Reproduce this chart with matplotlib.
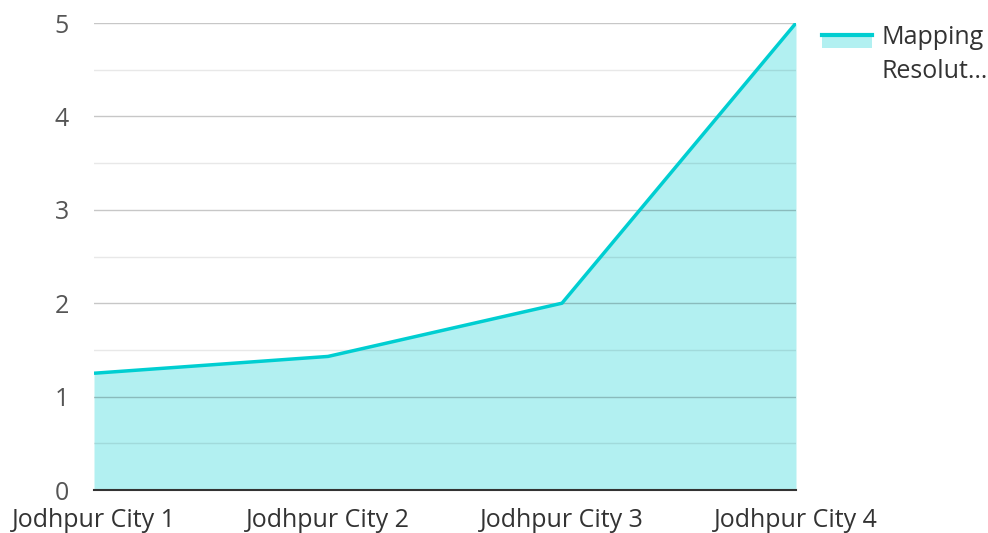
import matplotlib
matplotlib.use("Agg")
import matplotlib.pyplot as plt
from matplotlib.patches import Rectangle
from matplotlib.lines import Line2D
from matplotlib.ticker import MultipleLocator

categories = ["Jodhpur City 1", "Jodhpur City 2", "Jodhpur City 3", "Jodhpur City 4"]
values = [1.25, 1.43, 2.0, 5.0]
series_lines = ["Mapping", "Resolut…"]

plt.rcParams['font.family'] = ['Open Sans', 'DejaVu Sans']
line_color = "#00CED1"
fill_color = "#B2F0F1"
text_color = "#333333"

fig = plt.figure(figsize=(9.88, 5.33), dpi=100)
ax = fig.add_axes([94/988, 43/533, (796-94)/988, (490-23)/533])

x = list(range(len(categories)))
ax.fill_between(x, values, 0, color=fill_color, lw=0, zorder=1)
ax.plot(x, values, color=line_color, lw=2.5, zorder=3, solid_capstyle='butt')

ax.set_xlim(0, len(categories) - 1)
ax.set_ylim(0, 5)
ax.yaxis.set_major_locator(MultipleLocator(1))
ax.yaxis.set_minor_locator(MultipleLocator(0.5))
ax.set_xticks(x)
ax.set_xticklabels(categories)

ax.grid(axis='y', which='major', color='black', alpha=0.22, lw=1, zorder=2)
ax.grid(axis='y', which='minor', color='black', alpha=0.09, lw=1, zorder=2)
ax.grid(axis='x', visible=False)
for s in ['top', 'right', 'left']:
    ax.spines[s].set_visible(False)
ax.spines['bottom'].set_color('#333333')
ax.spines['bottom'].set_linewidth(1.5)
ax.spines['bottom'].set_zorder(4)
ax.tick_params(axis='y', which='both', length=0, pad=18, labelsize=18, labelcolor='#555555')
ax.tick_params(axis='x', length=0, pad=13, labelsize=18, labelcolor=text_color)

# legend drawn in figure coordinates
fig.patches.append(Rectangle((822/988, 1 - 48/533), 50/988, 15/533, transform=fig.transFigure,
                             facecolor=fill_color, edgecolor='none'))
fig.lines.append(Line2D([822/988, 872/988], [1 - 35/533, 1 - 35/533], transform=fig.transFigure,
                        color=line_color, lw=3))
for i, t in enumerate(series_lines):
    fig.text(881/988, 1 - (38 + 33*i)/533, t, ha='left', va='center', fontsize=18,
             color=text_color, transform=fig.transFigure)

fig.savefig("out.png", dpi=100)
